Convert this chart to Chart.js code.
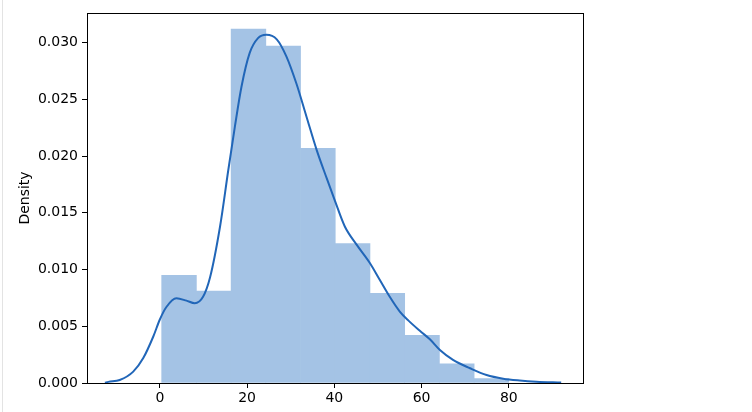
<!DOCTYPE html>
<html>
<head>
<meta charset="utf-8">
<script src="https://cdn.jsdelivr.net/npm/chart.js@4/dist/chart.umd.min.js"></script>
<style>
  html, body { margin: 0; padding: 0; background: #fff; }
  #wrap { position: relative; width: 752px; height: 412px; }
  #edge { position: absolute; left: 2px; top: 0; width: 1px; height: 412px; background: #e3e3e3; }
</style>
</head>
<body>
<div id="wrap">
  <canvas id="chart" width="752" height="412"></canvas>
  <div id="edge"></div>
</div>
<script>
// ── Dados: histograma (densidade) ──
const binCenters = [4.399, 12.357, 20.315, 28.273, 36.231, 44.189, 52.147, 60.105, 68.063, 76.021];
const binDensity = [0.0095, 0.0081, 0.0312, 0.0297, 0.0207, 0.0123, 0.0079, 0.0042, 0.0017, 0.0004];

// ── Dados: curva KDE ──
const kdeX = [-12.6, -11.8, -9.2, -6.1, -3.8, -1.5, 0, 1.5, 3.8, 6.1, 8.0, 9.9, 11.5, 13.8, 15.7, 17.2, 18.7,
  20.6, 22.5, 24.4, 26.8, 29.0, 31.3, 33.6, 35.9, 38.2, 40.1, 42.4, 45.1, 48.1, 50.4, 52.7, 55.0, 57.0,
  59.6, 61.9, 64.2, 67.2, 71.1, 74.9, 78.7, 82.5, 86.3, 92.0];
const kdeY = [0.00003, 0.0001, 0.00026, 0.001, 0.0022, 0.0041, 0.0056, 0.0067, 0.00747, 0.00726, 0.00703, 0.0076, 0.0093, 0.0138, 0.0188, 0.0226, 0.0261,
  0.0291, 0.0304, 0.0307, 0.0303, 0.0288, 0.0264, 0.0235, 0.0206, 0.0181, 0.0161, 0.0138, 0.0122, 0.0106, 0.0091, 0.0076, 0.0063, 0.0055,
  0.0046, 0.00385, 0.0029, 0.00203, 0.0013, 0.0007, 0.00038, 0.00022, 0.00012, 0.00005];

const xTicks = [0, 20, 40, 60, 80];
const yTicks = [0, 0.005, 0.010, 0.015, 0.020, 0.025, 0.030];

const LINE = 'rgb(33, 102, 184)';
const BAR = '#a4c3e5';
const FONT = { family: 'DejaVu Sans', size: 14 };

// moldura completa (spines de cima e direita)
const framePlugin = {
  id: 'frame',
  afterDraw(chart) {
    const { ctx, chartArea: a } = chart;
    ctx.save();
    ctx.strokeStyle = '#000';
    ctx.lineWidth = 1;
    ctx.strokeRect(Math.round(a.left) + 0.5, Math.round(a.top) + 0.5,
      Math.round(a.right - a.left), Math.round(a.bottom - a.top));
    ctx.restore();
  }
};

new Chart(document.getElementById('chart'), {
  data: {
    datasets: [
      {
        type: 'bar',
        data: binCenters.map((x, i) => ({ x, y: binDensity[i] })),
        backgroundColor: BAR,
        borderWidth: 0,
        barPercentage: 1,
        categoryPercentage: 1,
        order: 2,
      },
      {
        type: 'line',
        data: kdeX.map((x, i) => ({ x, y: kdeY[i] })),
        borderColor: LINE,
        borderWidth: 2,
        pointRadius: 0,
        cubicInterpolationMode: 'monotone',
        fill: false,
        order: 1,
      },
    ],
  },
  options: {
    responsive: false,
    animation: false,
    layout: { padding: { left: 17, top: 13, right: 169, bottom: 0 } },
    plugins: { legend: { display: false }, tooltip: { enabled: false } },
    scales: {
      x: {
        type: 'linear',
        min: -16.7,
        max: 97,
        offset: false,
        afterBuildTicks: s => { s.ticks = xTicks.map(v => ({ value: v })); },
        afterFit: s => { s.height = 29; },
        ticks: { color: '#000', font: FONT, padding: 2, maxRotation: 0, callback: v => String(v) },
        grid: { display: true, offset: false, drawOnChartArea: false, tickLength: 5, color: '#000' },
        border: { display: true, color: '#000' },
      },
      y: {
        type: 'linear',
        min: 0,
        max: 0.03262,
        afterBuildTicks: s => { s.ticks = yTicks.map(v => ({ value: v })); },
        afterFit: s => { s.width = 70; },
        ticks: { color: '#000', font: FONT, padding: 4, callback: v => v.toFixed(3) },
        grid: { display: true, offset: false, drawOnChartArea: false, tickLength: 5, color: '#000' },
        border: { display: true, color: '#000' },
        title: { display: true, text: 'Density', color: '#000', font: { family: 'DejaVu Sans', size: 14 }, padding: 0 },
      },
    },
  },
  plugins: [framePlugin],
});
</script>
</body>
</html>
